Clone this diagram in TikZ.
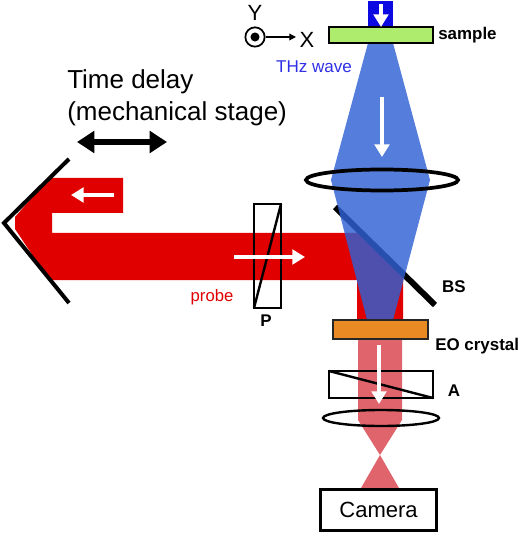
\documentclass[tikz,border=0pt]{standalone}
\usepackage{fontspec}
\setmainfont{Liberation Sans}
\usetikzlibrary{arrows.meta}
\definecolor{probered}{RGB}{224,0,0}
\definecolor{probepink}{RGB}{224,100,108}
\definecolor{thzblue}{RGB}{48,97,212}
\definecolor{thzsquare}{RGB}{10,10,225}
\definecolor{samplegreen}{RGB}{174,236,110}
\definecolor{eoorange}{RGB}{233,139,34}
\tikzset{
    whitearrow/.style={draw=white, line width=2.6pt, -{Triangle[length=9.5pt,width=11pt,fill=white]}},
    optic/.style={draw=black, line width=1.8pt},
    boldlabel/.style={font=\fontsize{12.7}{15}\selectfont\bfseries},
    biglabel/.style={font=\fontsize{16.5}{20}\selectfont},
}

\begin{document}
\begin{tikzpicture}[x=0.75pt, y=-0.75pt]
    \useasboundingbox (0,0) rectangle (520,534);
    % probe beam
    \fill[probered] (49,178) -- (123,178) -- (123,213) -- (52,213) -- (52,233) -- (361,233) -- (403,275) -- (403,320) -- (357,320) -- (357,280) -- (49,280) -- (15,229) -- (15,217) -- cycle;
    \fill[probepink] (358,339) -- (402,339) -- (402,420) -- (380,455) -- (399,488) -- (361,488) -- (380,455) -- (358,420) -- cycle;
    % beam splitter
    \draw[line width=4.5pt] (335,207) -- (435,305);
    % THz beam
    \fill[thzsquare] (368,1) rectangle (393,27);
    \fill[thzblue, opacity=0.82] (368,43) -- (393,43) -- (430,180) -- (393,320) -- (367,320) -- (331,180) -- cycle;
    % mirror
    \draw[line width=3pt] (69,159) -- (4,223) -- (69,303);
    % optics
    \draw[line width=2.8pt] (382,180) ellipse [x radius=76, y radius=10.5];
    \draw[optic, fill=samplegreen] (329,27) rectangle (433,43);
    \draw[optic, draw=black!85, fill=eoorange, line width=1.3pt] (333,320) rectangle (428,339);
    \draw[optic] (254,204) rectangle (281,308);
    \draw[optic] (254,308) -- (281,204);
    \draw[optic] (329,371) rectangle (433,398);
    \draw[optic] (329,371) -- (433,398);
    \draw[line width=1.8pt] (381,418) ellipse [x radius=58, y radius=8];
    % arrows
    \draw[whitearrow] (381,4) -- (381,27);
    \draw[whitearrow] (382,97) -- (382,157);
    \draw[whitearrow] (114,195) -- (71,195);
    \draw[whitearrow] (234,257) -- (305,257);
    \draw[whitearrow] (379,345) -- (379,404);
    \draw[line width=4.8pt, {Triangle[length=13pt,width=16pt]}-{Triangle[length=13pt,width=16pt]}] (77,142) -- (167,142);
    % axes
    \node[biglabel] (axisy) at (255,13) {Y};
    \node[draw, circle, line width=1.3pt, minimum size=14.5pt, inner sep=0pt] (axiscirc) at (255,37) {};
    \fill (axiscirc.center) circle (3.4pt);
    \node[biglabel] (axisx) at (307,40) {X};
    \draw[line width=0.9pt, -{Triangle[length=5pt,width=5pt]}] (axiscirc.east) -- (296,37);
    % labels
    \node[boldlabel, anchor=west, inner sep=0pt] (samplelabel) at (438,35) {sample};
    \node[font=\fontsize{12.8}{15}\selectfont, text=thzsquare!85!white, inner sep=0pt] (thzlabel) at (314,67) {THz wave};
    \node[font=\fontsize{19.5}{24}\selectfont, align=left, anchor=west, inner sep=0pt] (delaylabel) at (67,98) {Time delay\\(mechanical stage)};
    \node[font=\fontsize{12.5}{15}\selectfont, text=probered, inner sep=0pt] (probelabel) at (212,297) {probe};
    \node[boldlabel, inner sep=0pt] (plabel) at (266,321) {P};
    \node[boldlabel, inner sep=0pt] (bslabel) at (454,287) {BS};
    \node[boldlabel, anchor=west, inner sep=0pt] (eolabel) at (435,346) {EO crystal};
    \node[boldlabel, inner sep=0pt] (alabel) at (454,391) {A};
    \node[optic, minimum width=87pt, minimum height=31pt, inner sep=0pt, biglabel] (camera) at (378.5,510) {Camera};
\end{tikzpicture}
\end{document}
